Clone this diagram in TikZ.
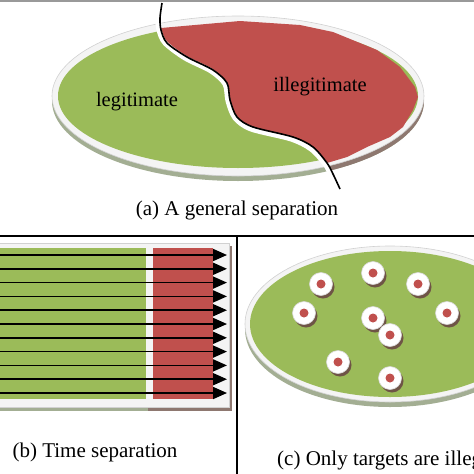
\documentclass[tikz,border=0pt]{standalone}
\usepackage{fontspec}
\setmainfont{Liberation Serif}
\usetikzlibrary{arrows.meta}
\definecolor{mygreen}{HTML}{9BBB59}
\definecolor{myred}{HTML}{C0504D}
\definecolor{myrim}{HTML}{F4F4F4}
\definecolor{mygshadow}{HTML}{A3AE93}
\definecolor{myrshadow}{HTML}{8E7870}
\definecolor{mydisk}{HTML}{6E5446}
\newcommand{\BigText}{\fontsize{21}{25}\selectfont}

\begin{document}
\begin{tikzpicture}[x=1pt,y=-1pt,
    frame/.style={line width=2pt},
    rim/.style={fill=myrim, draw=black!18, line width=0.6pt},
    region/.style={font=\fontsize{20.5}{24}\selectfont, inner sep=0pt},
    caption/.style={font=\BigText, inner sep=0pt},
    flow/.style={line width=1.7pt, -{Triangle[length=14pt,width=12pt]}}]
  \useasboundingbox (0,0) rectangle (474,474);
  \clip (0,0) rectangle (474,474);

  % panel borders
  \draw[frame, black!40] (0,1) -- (474,1);
  \draw[frame] (0,236) -- (474,236);
  \draw[frame] (237,236) -- (237,474);

  % (a) plate with a general separation
  \fill[mygshadow] (238,101) ellipse [x radius=186pt, y radius=80pt];
  \begin{scope}
    \clip (330,0) rectangle (474,200);
    \fill[myrshadow] (238,101) ellipse [x radius=186pt, y radius=80pt];
  \end{scope}
  \path[rim] (238,96) ellipse [x radius=186pt, y radius=80pt];
  \fill[mygreen] (238,96) ellipse [x radius=180pt, y radius=72pt];
  \fill[myred] plot[smooth] coordinates {(161,28) (167,43) (187,57) (213,70) (227,83)
      (230,100) (237,117) (253,127) (293,137) (313,147) (327,163)}
    -- (347,157) -- (367,147) -- (390,137) -- (403,127) -- (413,110) -- (418,97)
    -- (415,87) -- (400,67) -- (377,50) -- (333,32) -- (300,25) -- (240,21) -- cycle;
  \draw[white, line width=5pt] plot[smooth] coordinates {(160,3) (158,18) (159,30)
      (165,43) (185,58) (211,71) (225,84) (228,101) (235,118) (251,129) (291,139)
      (311,149) (325,164) (331,175) (338,189)};
  \draw[line width=1.6pt] plot[smooth] coordinates {(162,3) (160,18) (161,30)
      (167,43) (187,57) (213,70) (227,83) (230,100) (237,117) (253,127) (293,137)
      (313,147) (327,163) (333,174) (340,189)};
  \node[region] (legit)   at (137,102) {legitimate};
  \node[region] (illegit) at (320,87)  {illegitimate};
  \node[caption] (capA) at (237,210) {(a) A general separation};

  % (b) time separation
  \fill[myrshadow] (0,246) rectangle (232,411);
  \fill[mygshadow] (0,406) rectangle (148,411);
  \path[rim] (-2,243) rectangle (229,407);
  \fill[mygreen] (0,248) rectangle (146,399);
  \fill[myred] (153,248) rectangle (213,399);
  \foreach \k in {0,...,10} {
    \coordinate (s\k) at (-4,255+13.8*\k);
    \coordinate (e\k) at (227,255+13.8*\k);
    \draw[flow] (s\k) -- (e\k);
  }
  \node[caption] (capB) at (95,452) {(b) Time separation};

  % (c) only targets are illegitimate
  \fill[mygshadow] (390,329) ellipse [x radius=145pt, y radius=78pt];
  \path[rim] (390,324) ellipse [x radius=145pt, y radius=78pt];
  \fill[mygreen] (390,324) ellipse [x radius=140pt, y radius=73pt];
  \foreach \x/\y [count=\n] in {321/284, 373/273, 418/284, 304/313, 373/318,
      447/313, 390/335, 338/362, 390/378} {
    \fill[mydisk] (\x+2,\y+3) circle [radius=11.5pt];
    \node[circle, fill=white, draw=black!15, line width=0.6pt, minimum size=23pt,
      inner sep=0pt] (t\n) at (\x,\y) {};
    \fill[myred] (t\n.center) circle [radius=4.5pt];
  }
  \node[caption, anchor=west] (capC) at (277,460) {(c) Only targets are illegitimate};
\end{tikzpicture}
\end{document}
